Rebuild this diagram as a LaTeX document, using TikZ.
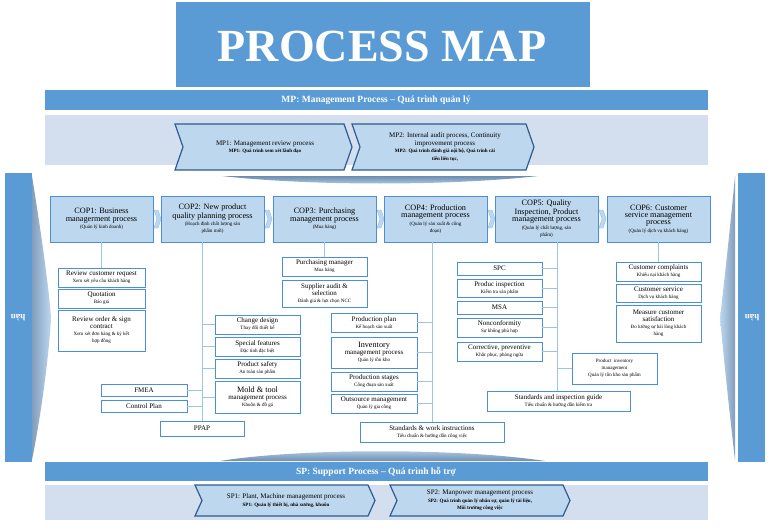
\documentclass[tikz,border=0pt]{standalone}
\usepackage{fontspec}
\setmainfont{Liberation Serif}
\definecolor{bar}{HTML}{5B9BD5}
\definecolor{band}{HTML}{D3DFEE}
\definecolor{chf}{HTML}{BDD7EE}
\definecolor{chd}{HTML}{2F5C8F}
\definecolor{cb}{HTML}{4A90D9}
\definecolor{ln}{HTML}{9DC3E6}
\newcommand{\tn}{\fontsize{5}{5.6}\selectfont}
\newcommand{\mn}{\fontsize{7}{7.6}\selectfont}
\newcommand{\cn}{\fontsize{8.2}{8.8}\selectfont}
\newcommand{\chevshape}[5]{\fill[chf,draw=chd,line width=1.2pt] (#1,#2)--(#3-#5,#2)--(#3,{(#2+#4)/2})--(#3-#5,#4)--(#1,#4)--(#1+#5,{(#2+#4)/2})--cycle;}
\begin{document}
\begin{tikzpicture}[x=1pt,y=-1pt,
  cop/.style={draw=cb,fill=chf,line width=0.9pt,minimum width=103pt,minimum height=46pt,align=center,inner sep=1pt,font=\fontsize{6}{7.4}\selectfont},
  sub/.style={draw=cb,fill=white,line width=0.8pt,align=center,inner sep=1pt,minimum width=#1,font=\fontsize{6}{7}\selectfont},
  conn/.style={draw=ln,line width=1pt},
  txt/.style={align=center,inner sep=0pt,font=\fontsize{6}{7.6}\selectfont}]
\useasboundingbox (0,0) rectangle (768,532);
\fill[white] (0,0) rectangle (768,532);
\fill[bar,draw=white,line width=1pt] (175,2) rectangle (590,88);
\node[txt,text=white,font=\fontsize{46}{50}\selectfont\bfseries] (title) at (382,46) {PROCESS MAP};
\fill[bar] (45,90) rectangle (708,110);
\node[txt,text=white,font=\fontsize{9.5}{11}\selectfont\bfseries] (mp) at (376,100) {MP: Management Process -- Quá trình quản lý};
\fill[band] (45,115) rectangle (708,165);
\chevshape{175}{124}{352}{170}{8}
\node[txt,text=black] (mp1) at (265,147) {\mn MP1: Management review process\\\tn\bfseries MP1: Quá trình xem xét lãnh đạo};
\chevshape{352}{124}{534}{170}{8}
\node[txt,text=black] (mp2) at (445,147) {\mn MP2: Internal audit process, Continuity\\\mn improvement process\\\tn\bfseries MP2: Quá trình đánh giá nội bộ, Quá trình cải\\\tn\bfseries tiến liên tục,};
\shade[top color=chd!70,bottom color=chf] (222,176) -- (538,176) .. controls (450,186) and (310,186) .. (222,176) -- cycle;
\shade[top color=chf,bottom color=chd!70] (220,461) -- (545,461) .. controls (460,448) and (300,448) .. (220,461) -- cycle;
\fill[bar] (5,173) rectangle (32,462);
\shade[left color=chd!60,right color=chf] (32,176) .. controls (44,250) and (50,300) .. (51,318) .. controls (50,340) and (44,400) .. (32,460) -- cycle;
\node[txt,text=white,rotate=180,font=\fontsize{9}{10}\selectfont\bfseries] (lt) at (18,318) {hàn};
\fill[bar] (738,173) rectangle (765,462);
\shade[left color=chf,right color=chd!60] (735,176) .. controls (728,250) and (722,300) .. (720,318) .. controls (722,340) and (728,400) .. (735,460) -- cycle;
\node[txt,text=white,rotate=180,font=\fontsize{9}{10}\selectfont\bfseries] (rt) at (752,318) {hàn};
\foreach \x in {153,264,376,487,598}{\fill[chf,draw=cb!60] (\x+1,210) -- (\x+5,210) -- (\x+8,219) -- (\x+5,228) -- (\x+1,228) -- (\x+4,219) -- cycle;}
\node[cop] (c1) at (101.5,219) {\cn COP1: Business\\\cn managerment process\\\tn(Quản lý kinh doanh)};
\node[cop] (c2) at (212.5,219) {\cn COP2: New product\\\cn quality planning process\\\tn(Hoạch định chất lượng sản\\\tn phẩm mới)};
\node[cop] (c3) at (324.5,219) {\cn COP3: Purchasing\\\cn management process\\\tn(Mua hàng)};
\node[cop] (c4) at (435.5,219) {\cn COP4: Production\\\cn management process\\\tn(Quản lý sản xuất \& công\\\tn đoạn)};
\node[cop] (c5) at (546.5,219) {\cn COP5: Quality\\\cn Inspection, Product\\\cn management process\\\tn(Quản lý chất lượng, sản\\\tn phẩm)};
\node[cop] (c6) at (658.5,219) {\cn COP6: Customer\\\cn service management\\\cn process\\\tn(Quản lý dịch vụ khách hàng)};
\node[sub=87pt,minimum height=19pt] (r1) at (101.5,277.5) {\mn Review customer request\\\tn Xem xét yêu cầu khách hàng};
\node[sub=87pt,minimum height=19pt] (r2) at (101.5,298.5) {\mn Quotation\\\tn Báo giá};
\node[sub=87pt,minimum height=41pt] (r3) at (101.5,330.5) {\mn Review order \& sign\\\mn contract\\\tn Xem xét đơn hàng \& ký kết\\\tn hợp đồng};
\draw[conn] (c1.south) -- (r1.north);
\node[sub=85pt,minimum height=19pt] (s1) at (257.5,324.5) {\mn Change design\\\tn Thay đổi thiết kế};
\node[sub=85pt,minimum height=19pt] (s2) at (257.5,346.5) {\mn Special features\\\tn Đặc tính đặc biệt};
\node[sub=85pt,minimum height=19pt] (s3) at (257.5,368.5) {\mn Product safety\\\tn An toàn sản phẩm};
\node[sub=85pt,minimum height=32pt] (s4) at (257.5,397) {\cn Mold \& tool\\\mn management process\\\tn Khuôn \& đồ gá};
\node[sub=86pt,minimum height=12pt] (fm) at (144,390) {\mn FMEA};
\node[sub=86pt,minimum height=12pt] (cp) at (144,406) {\mn Control Plan};
\node[sub=84pt,minimum height=15pt] (pp) at (202,428.5) {\mn PPAP};
\coordinate (c2b) at (202,242);
\draw[conn] (c2b) -- (pp.north);
\foreach \n in {s1,s2,s3,s4}{\draw[conn] (c2b |- \n.west) -- (\n.west);}
\draw[conn] (fm.east) -- (c2b |- fm.east);
\draw[conn] (cp.east) -- (c2b |- cp.east);
\node[sub=85pt,minimum height=19pt] (p1) at (324.5,266.5) {\mn Purchasing manager\\\tn Mua hàng};
\node[sub=85pt,minimum height=27pt] (p2) at (324.5,293.5) {\mn Supplier audit \&\\\mn selection\\\tn Đánh giá \& lựa chọn NCC};
\draw[conn] (c3.south) -- (p1.north);
\node[sub=86pt,minimum height=19pt] (d1) at (374,322.5) {\mn Production plan\\\tn Kế hoạch sản xuất};
\node[sub=86pt,minimum height=31pt] (d2) at (374,352.5) {\cn Inventory\\\mn management process\\\tn Quản lý tồn kho};
\node[sub=86pt,minimum height=19pt] (d3) at (374,381.5) {\mn Production stages\\\tn Công đoạn sản xuất};
\node[sub=86pt,minimum height=19pt] (d4) at (374,403.5) {\mn Outsource management\\\tn Quản lý gia công};
\node[sub=144pt,minimum height=20pt] (d5) at (432,432) {\mn Standards \& work instructions\\\tn Tiêu chuẩn \& hướng dẫn công việc};
\coordinate (c4b) at (432,242);
\draw[conn] (c4b) -- (d5.north);
\foreach \n in {d1,d2,d3,d4}{\draw[conn] (\n.east) -- (c4b |- \n.east);}
\node[sub=85pt,minimum height=13pt] (q1) at (499.5,268.5) {\mn SPC};
\node[sub=85pt,minimum height=18pt] (q2) at (499.5,288) {\mn Produc inspection\\\tn Kiểm tra sản phẩm};
\node[sub=85pt,minimum height=13pt] (q3) at (499.5,307.5) {\mn MSA};
\node[sub=85pt,minimum height=19pt] (q4) at (499.5,327.5) {\mn Nonconformity\\\tn Sự không phù hợp};
\node[sub=85pt,minimum height=19pt] (q5) at (499.5,351.5) {\mn Corrective, preventive\\\tn Khắc phục, phòng ngừa};
\node[sub=85pt,minimum height=31pt] (q6) at (614.5,368.5) {\tn Product\ \ inventory\\\tn management\\\tn Quản lý tồn kho sản phẩm};
\node[sub=143pt,minimum height=20pt] (q7) at (558.5,401) {\mn Standards and inspection guide\\\tn Tiêu chuẩn \& hướng dẫn kiểm tra};
\coordinate (c5b) at (557,242);
\draw[conn] (c5b) -- (c5b |- q7.north);
\foreach \n in {q1,q2,q3,q4,q5}{\draw[conn] (\n.east) -- (c5b |- \n.east);}
\draw[conn] (c5b |- q6.west) -- (q6.west);
\node[sub=85pt,minimum height=19pt] (u1) at (658.5,271.5) {\mn Customer complaints\\\tn Khiếu nại khách hàng};
\node[sub=85pt,minimum height=18pt] (u2) at (658.5,293) {\mn Customer service\\\tn Dịch vụ khách hàng};
\node[sub=85pt,minimum height=37pt] (u3) at (658.5,323.5) {\mn Measure customer\\\mn satisfaction\\\tn Đo lường sự hài lòng khách\\\tn hàng};
\draw[conn] (c6.south) -- (u1.north);
\fill[bar] (45,462) rectangle (708,481);
\node[txt,text=white,font=\fontsize{9.5}{11}\selectfont\bfseries] (sp) at (376,471.5) {SP: Support Process -- Quá trình hỗ trợ};
\fill[band] (45,485) rectangle (708,520);
\chevshape{195}{485}{375}{516}{7}
\node[txt] (sp1) at (286,500.5) {\mn SP1: Plant, Machine management process\\\tn\bfseries SP1: Quản lý thiết bị, nhà xưởng, khuôn};
\chevshape{390}{485}{570}{516}{7}
\node[txt] (sp2) at (480,500.5) {\mn SP2: Manpower management process\\\tn\bfseries SP2: Quá trình quản lý nhân sự, quản lý tài liệu,\\\tn\bfseries Môi trường công việc};
\end{tikzpicture}
\end{document}
